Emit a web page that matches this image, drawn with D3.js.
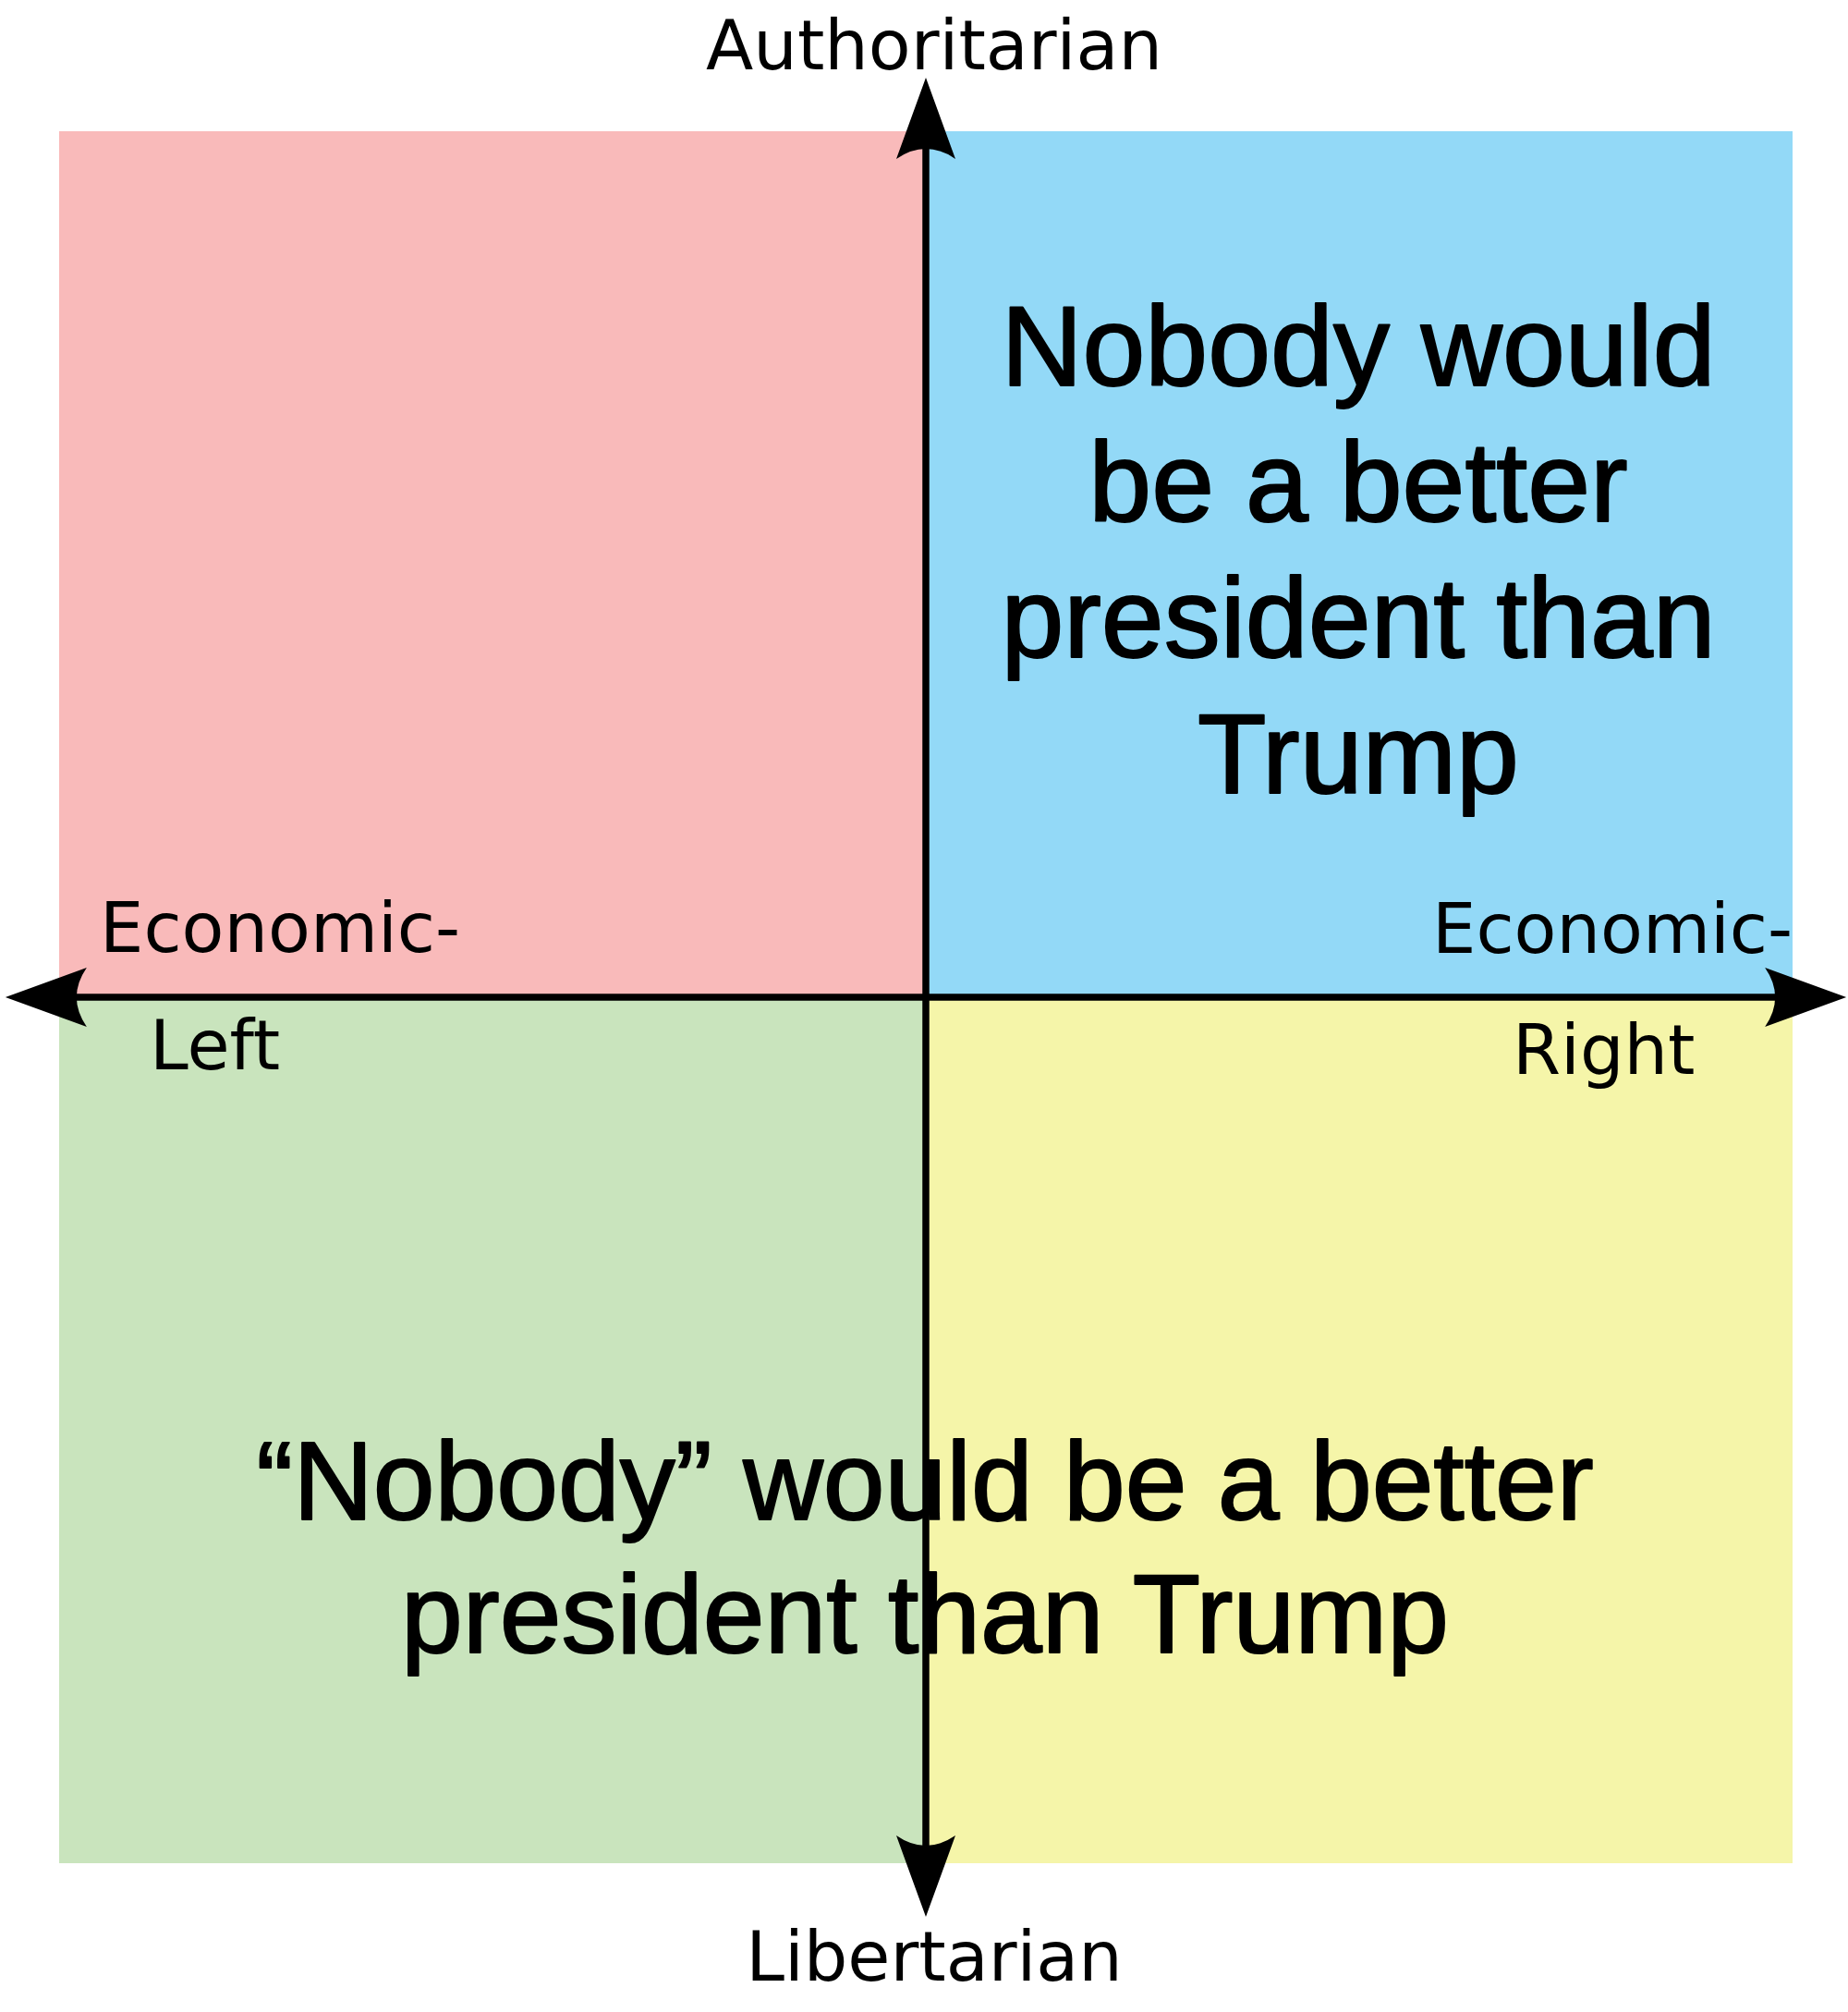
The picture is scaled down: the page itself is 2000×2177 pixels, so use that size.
<!DOCTYPE html>
<html>
<head>
<meta charset="utf-8">
<script src="https://cdn.jsdelivr.net/npm/d3@7"></script>
<style>
  html, body { margin: 0; padding: 0; background: #fff; }
  svg { display: block; }
</style>
</head>
<body>
<svg id="compass" width="2000" height="2177"></svg>
<script>
// Quadrants of the political compass
const quadrants = ['Auth-Left', 'Auth-Right', 'Lib-Left', 'Lib-Right'];
const quadrantX = [-10, 0, -10, 0];
const quadrantY = [10, 10, 0, 0];
const quadrantColors = ['#f9baba', '#93d9f7', '#c9e4bd', '#f5f5a9'];

// Axis labels
const axisLabels = ['Authoritarian', 'Libertarian', 'Economic-', 'Left', 'Economic-', 'Right'];

// Captions
const captionTop = ['Nobody would', 'be a better', 'president than', 'Trump'];
const captionBottom = ['\u201cNobody\u201d would be a better', 'president than Trump'];

const svg = d3.select('#compass');

const x = d3.scaleLinear().domain([-10, 10]).range([64, 1940]);
const y = d3.scaleLinear().domain([10, -10]).range([142, 2016]);
const ext = 10.62; // how far the arrow tips go past the box

// Quadrant fills
svg.append('g')
  .selectAll('rect')
  .data(quadrants)
  .join('rect')
  .attr('x', (d, i) => x(quadrantX[i]))
  .attr('y', (d, i) => y(quadrantY[i]))
  .attr('width', x(10) - x(0))
  .attr('height', y(0) - y(10))
  .attr('fill', (d, i) => quadrantColors[i]);

// Axes
const axes = svg.append('g');
axes.append('line')
  .attr('x1', x(-ext) + 60).attr('x2', x(ext) - 60)
  .attr('y1', y(0)).attr('y2', y(0))
  .attr('stroke', '#000').attr('stroke-width', 7.5);
axes.append('line')
  .attr('x1', x(0)).attr('x2', x(0))
  .attr('y1', y(ext) + 60).attr('y2', y(-ext) - 60)
  .attr('stroke', '#000').attr('stroke-width', 7.5);

// Arrow heads with a concave back
const head = 'M0,0 L-88,-32 Q-66,0 -88,32 Z';
const tips = [
  { px: x(ext), py: y(0), rot: 0 },
  { px: x(-ext), py: y(0), rot: 180 },
  { px: x(0), py: y(ext), rot: -90 },
  { px: x(0), py: y(-ext), rot: 90 }
];
axes.selectAll('path')
  .data(tips)
  .join('path')
  .attr('d', head)
  .attr('transform', d => `translate(${d.px},${d.py}) rotate(${d.rot})`)
  .attr('fill', '#000');

// Axis labels
const labelFont = '"DejaVu Sans", Verdana, sans-serif';
const labels = svg.append('g')
  .attr('font-family', labelFont)
  .attr('font-size', 75)
  .attr('fill', '#000');

labels.append('text')
  .attr('x', x(0) + 9).attr('y', 75)
  .attr('text-anchor', 'middle')
  .text(axisLabels[0]);
labels.append('text')
  .attr('x', x(0) + 9).attr('y', 2143)
  .attr('text-anchor', 'middle')
  .text(axisLabels[1]);
labels.append('text')
  .attr('x', x(-10) + 44).attr('y', y(0) - 49)
  .text(axisLabels[2]);
labels.append('text')
  .attr('x', x(-10) + 98).attr('y', y(0) + 78)
  .text(axisLabels[3]);
labels.append('text')
  .attr('x', x(10) - 390).attr('y', y(0) - 48)
  .text(axisLabels[4]);
labels.append('text')
  .attr('x', x(10) - 303).attr('y', y(0) + 83)
  .text(axisLabels[5]);

// Captions
const captionFont = '"Liberation Sans", Arial, Helvetica, sans-serif';
svg.append('g')
  .attr('font-family', captionFont)
  .attr('font-size', 122)
  .attr('text-anchor', 'middle')
  .attr('stroke', '#000')
  .attr('stroke-width', 2)
  .attr('stroke-linejoin', 'round')
  .selectAll('text')
  .data(captionTop)
  .join('text')
  .attr('x', (x(0) + x(10)) / 2 - 1)
  .attr('y', (d, i) => 417 + i * 147)
  .text(d => d);

svg.append('g')
  .attr('font-family', captionFont)
  .attr('font-size', 120)
  .attr('text-anchor', 'middle')
  .attr('stroke', '#000')
  .attr('stroke-width', 2)
  .attr('stroke-linejoin', 'round')
  .selectAll('text')
  .data(captionBottom)
  .join('text')
  .attr('x', x(0) - 1)
  .attr('y', (d, i) => 1644 + i * 144)
  .text(d => d);
</script>
</body>
</html>
